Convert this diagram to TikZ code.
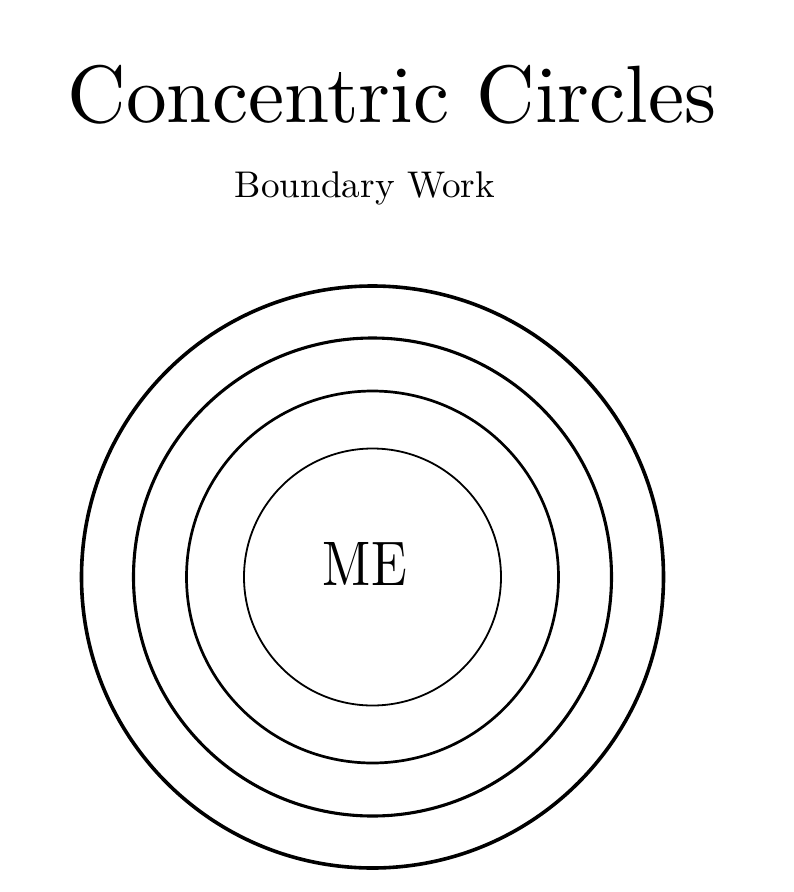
\documentclass[tikz,border=0pt]{standalone}
\usepackage{graphicx}
\begin{document}
\begin{tikzpicture}[x=1pt,y=-1pt,
  ring/.style={draw=black},
  label/.style={inner sep=0pt,outer sep=0pt,text=black}]
\useasboundingbox[fill=white] (0,0) rectangle (794,892);
\node[label,anchor=base] (title) at (392,122.5) {\resizebox{649pt}{!}{Concentric Circles}};
\node[label,anchor=base] (subtitle) at (365,197) {\resizebox{260pt}{!}{Boundary Work}};
\coordinate (c) at (372.5,577);
\draw[ring,line width=3.6pt] (c) circle[radius=291];
\draw[ring,line width=3.1pt] (c) circle[radius=239];
\draw[ring,line width=2.7pt] (c) circle[radius=186];
\draw[ring,line width=1.8pt] (c) circle[radius=128.5];
\node[label,anchor=base] (me) at (365,585) {\resizebox{84pt}{43pt}{ME}};
\end{tikzpicture}
\end{document}
